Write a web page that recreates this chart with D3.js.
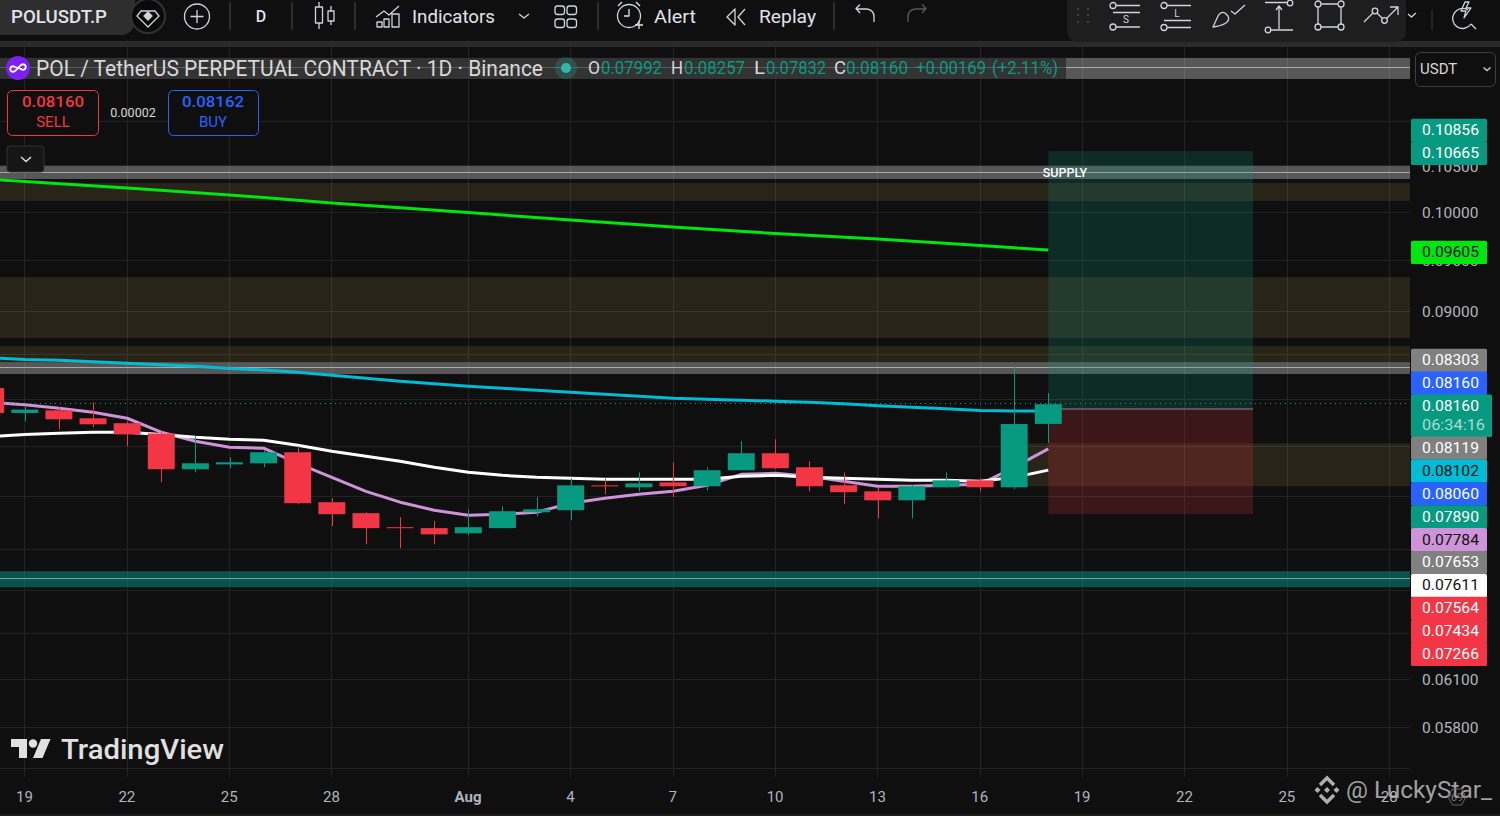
<!DOCTYPE html>
<html lang="en">
<head>
<meta charset="utf-8">
<title>POLUSDT.P 1D</title>
<script src="https://d3js.org/d3.v7.min.js"></script>
<style>
  html, body { margin: 0; padding: 0; background: #0f0f0f; overflow: hidden; }
  svg { display: block; }
  text { font-family: Roboto, "Noto Sans", sans-serif; }
</style>
</head>
<body>
<svg id="chart" width="1500" height="816"></svg>
<script>
// candles, first one is 18 Jul (day -1), last is 18 Aug (day 30)
var opens  = [.08301,.08085,.08108,.08040,.07998,.07912,.07618,.07657,.07666,.07756,.07357,.07272,.07165,.07158,
              .07119,.07158,.07279,.07295,.07489,.07474,.07513,.07482,.07610,.07748,.07634,.07490,.07442,.07372,.07474,.07529,.07474,.07992];
var highs  = [.08340,.08137,.08137,.08177,.08014,.07929,.07887,.07715,.07772,.07806,.07388,.07279,.07241,.07211,
              .07302,.07325,.07396,.07545,.07545,.07593,.07674,.07634,.07847,.07863,.07683,.07593,.07474,.07490,.07593,.07545,.08495,.08257];
var lows   = [.08060,.08014,.07945,.07964,.07806,.07514,.07593,.07626,.07634,.07341,.07173,.07037,.07007,.07037,
              .07104,.07158,.07249,.07218,.07419,.07442,.07396,.07450,.07610,.07618,.07442,.07341,.07233,.07233,.07474,.07442,.07458,.07832];
var closes = [.08085,.08114,.08031,.07989,.07904,.07618,.07666,.07674,.07756,.07349,.07264,.07158,.07158,.07111,
              .07165,.07287,.07302,.07489,.07482,.07505,.07482,.07610,.07748,.07626,.07482,.07435,.07372,.07482,.07529,.07474,.07991,.08160];

// moving averages, one value per candle
var purpleMa = [.08177,.08156,.08126,.08091,.08040,.07922,.07847,.07797,.07789,.07666,.07553,.07442,.07357,.07295,
                .07256,.07264,.07279,.07349,.07388,.07419,.07442,.07490,.07577,.07585,.07561,.07521,.07482,.07482,.07490,.07497,.07634,.07784];
var whiteMa  = [.07884,.07904,.07913,.07922,.07922,.07904,.07880,.07863,.07855,.07814,.07764,.07723,.07682,.07634,
                .07593,.07569,.07553,.07545,.07537,.07537,.07537,.07537,.07561,.07569,.07553,.07545,.07537,.07529,.07529,.07521,.07553,.07611];
var cyanMa   = [.08572,.08555,.08549,.08535,.08522,.08508,.08495,.08474,.08461,.08441,.08414,.08388,.08361,.08339,
                .08317,.08299,.08282,.08264,.08247,.08229,.08212,.08203,.08195,.08186,.08177,.08164,.08147,.08134,.08121,.08106,.08102,.08102];
// long green one, read at the date ticks only
var greenDays = [-1,0,3,6,9,13,16,19,22,25,28,30];
var greenMa   = [.10350,.10328,.10257,.10182,.10096,.09995,.09916,.09843,.09775,.09718,.09652,.09605];

// horizontal zones [top, bottom]
var grayZones  = [[.11770,.11511],[.10499,.10355],[.08532,.08425]];
var grayLines  = [.11646,.10427,.08483];
var oliveZones = [[.10312,.10117],[.09335,.08752],[.08678,.08532]];
var lateZone   = [.07830,.07482];
var tealZone   = [.06839,.06725];
var tealLine   = .06789;

// long position tool
var toolEntry = .08119, toolTarget = .10665, toolStop = .07266;
var toolStartDay = 30, toolEndDay = 36;
var lastPrice = .08160;

// axes
var priceTicks = [.11,.105,.10,.095,.09,.086,.082,.078,.074,.07,.067,.064,.061,.058,.0555];
var priceTickLabels = [.105,.10,.095,.09,.061,.058];
var dayTicks = [0,3,6,9,13,16,19,22,25,28,31,34,37,40];
var dayTickLabels = ["19","22","25","28","Aug","4","7","10","13","16","19","22","25","28"];

// price tags on the right
var tagLabels = ["0.10856","0.10665","0.09605","0.08303","0.08160","0.08160","0.08119","0.08102","0.08060","0.07890","0.07784","0.07653","0.07611","0.07564","0.07434","0.07266"];
var tagFills  = ["#089981","#089981","#00e60f","#808080","#2962ff","#089981","#808080","#00bcd4","#2962ff","#089981","#ce93d8","#808080","#ffffff","#f23645","#f23645","#f23645"];
var tagInks   = ["#fff","#fff","#111","#fff","#fff","#fff","#fff","#111","#fff","#fff","#111","#fff","#111","#fff","#fff","#fff"];

var GREEN = "#089981", RED = "#f23645", ICON = "#d1d4dc";
var paneRight = 1410, paneTop = 47, paneBottom = 777;

var svg = d3.select("#chart");
svg.append("rect").attr("width", 1500).attr("height", 816).attr("fill", "#0f0f0f");

var x = d3.scaleLinear().domain([0, 30]).range([24.8, 1048.3]);
var y = d3.scaleLog().domain([.10, .058]).range([212, 727]);

var defs = svg.append("defs");
defs.append("clipPath").attr("id", "pane").append("rect")
  .attr("x", 0).attr("y", paneTop).attr("width", paneRight).attr("height", paneBottom - paneTop);

var pane = svg.append("g").attr("clip-path", "url(#pane)");

// grid
pane.selectAll("line.vgrid").data(dayTicks).enter().append("line")
  .attr("x1", x).attr("x2", x).attr("y1", paneTop).attr("y2", paneBottom)
  .attr("stroke", "#232323").attr("shape-rendering", "crispEdges");
pane.selectAll("line.hgrid").data(priceTicks).enter().append("line")
  .attr("x1", 0).attr("x2", paneRight).attr("y1", y).attr("y2", y)
  .attr("stroke", "#232323").attr("shape-rendering", "crispEdges");

function band(g, d, fill, x0) {
  g.append("rect")
    .attr("x", x0 || 0).attr("width", paneRight - (x0 || 0))
    .attr("y", y(d[0])).attr("height", y(d[1]) - y(d[0]))
    .attr("fill", fill);
}
function hline(g, p, color) {
  g.append("line").attr("x1", 0).attr("x2", paneRight).attr("y1", y(p)).attr("y2", y(p))
    .attr("stroke", color).attr("stroke-width", 1).attr("shape-rendering", "crispEdges");
}

// zones
var OLIVE = "rgba(235,205,85,0.115)";
oliveZones.forEach(function(d) { band(pane, d, OLIVE); });
band(pane, lateZone, OLIVE, x(29));
grayZones.forEach(function(d) { band(pane, d, "rgba(255,255,255,0.3)"); });
grayLines.forEach(function(p) { hline(pane, p, "#a8a8a8"); });
band(pane, tealZone, "rgba(8,150,140,0.5)");
hline(pane, tealLine, "#6fa8a2");

// moving averages
var maLine = d3.line().x(function(d) { return x(d[0]); }).y(function(d) { return y(d[1]); });
function drawMa(days, values, color) {
  pane.append("path")
    .datum(values.map(function(v, i) { return [days[i], v]; }))
    .attr("d", maLine).attr("fill", "none")
    .attr("stroke", color).attr("stroke-width", 3).attr("stroke-linejoin", "round");
}
var candleDays = d3.range(-1, 31);
drawMa(candleDays, cyanMa, "#00bcd4");
drawMa(candleDays, purpleMa, "#ce93d8");
drawMa(candleDays, whiteMa, "#ffffff");
drawMa(greenDays, greenMa, "#00e60f");

// long position tool
var toolX = x(toolStartDay), toolW = x(toolEndDay) - x(toolStartDay);
pane.append("rect").attr("x", toolX).attr("width", toolW)
  .attr("y", y(toolTarget)).attr("height", y(toolEntry) - y(toolTarget))
  .attr("fill", "rgba(8,153,129,0.2)");
pane.append("rect").attr("x", toolX).attr("width", toolW)
  .attr("y", y(toolEntry)).attr("height", y(toolStop) - y(toolEntry))
  .attr("fill", "rgba(242,54,69,0.2)");
pane.append("line").attr("x1", toolX).attr("x2", toolX + toolW)
  .attr("y1", y(toolEntry)).attr("y2", y(toolEntry))
  .attr("stroke", "#8a8a8a").attr("stroke-width", 1);

// last price dotted line
pane.append("line").attr("x1", 0).attr("x2", paneRight)
  .attr("y1", Math.round(y(lastPrice)) - 0.5).attr("y2", Math.round(y(lastPrice)) - 0.5)
  .attr("stroke", "#0aa58c").attr("stroke-dasharray", "1 4").attr("shape-rendering", "crispEdges");

// candles
var bodyW = (x(1) - x(0)) * 0.79;
var candles = pane.selectAll("g.candle").data(opens).enter().append("g").attr("class", "candle");
candles.append("line")
  .attr("x1", function(d, i) { return Math.round(x(candleDays[i])) + 0.5; })
  .attr("x2", function(d, i) { return Math.round(x(candleDays[i])) + 0.5; })
  .attr("y1", function(d, i) { return y(highs[i]); })
  .attr("y2", function(d, i) { return y(lows[i]); })
  .attr("stroke", function(d, i) { return closes[i] >= opens[i] ? GREEN : RED; });
candles.append("rect")
  .attr("x", function(d, i) { return x(candleDays[i]) - bodyW / 2; })
  .attr("width", bodyW)
  .attr("y", function(d, i) { return y(Math.max(opens[i], closes[i])); })
  .attr("height", function(d, i) { return Math.max(1, Math.abs(y(opens[i]) - y(closes[i]))); })
  .attr("fill", function(d, i) { return closes[i] >= opens[i] ? GREEN : RED; });

// text helper, w forces the rendered width
function label(g, px, py, str, size, fill, opt) {
  opt = opt || {};
  var t = g.append("text").attr("x", px).attr("y", py).text(str)
    .attr("font-size", size).attr("fill", fill)
    .attr("text-anchor", opt.anchor || "start")
    .attr("font-weight", opt.weight || 400);
  if (opt.w) t.attr("textLength", opt.w).attr("lengthAdjust", "spacingAndGlyphs");
  return t;
}

pane.append("text").attr("x", 1065).attr("y", 177).attr("text-anchor", "middle")
  .attr("font-size", 12.5).attr("font-weight", 500).attr("fill", "#fff").text("SUPPLY");

// axes
var yAxis = d3.axisRight(y).tickValues(priceTickLabels).tickSize(0).tickPadding(0)
  .tickFormat(d3.format(".5f"));
var yG = svg.append("g").attr("transform", "translate(1422,0.2)").call(yAxis);
yG.select(".domain").remove();
yG.selectAll("text").attr("font-size", 15.5).attr("fill", "#b2b5be")
  .style("font-family", "Roboto, sans-serif");

var xAxis = d3.axisBottom(x).tickValues(dayTicks).tickSize(0).tickPadding(0)
  .tickFormat(function(d, i) { return dayTickLabels[i]; });
var xG = svg.append("g").attr("transform", "translate(-0.8,791.5)").call(xAxis);
xG.select(".domain").remove();
xG.selectAll("text").attr("font-size", 15).attr("fill", "#b2b5be")
  .style("font-family", "Roboto, sans-serif")
  .attr("font-weight", function(d) { return d === 13 ? 700 : 400; });

svg.append("line").attr("x1", 0).attr("x2", 1500).attr("y1", 815).attr("y2", 815).attr("stroke", "#2a2a2a");

// price tags, the lower ones stack like tradingview does
var tagH = 22.9;
var tagTops = [118.8, 141.8, 240.8];
var stackTop = 348.7;
for (var k = 3; k < tagLabels.length; k++) {
  tagTops.push(stackTop);
  stackTop += (k === 5) ? 42 : tagH;
}
var tags = svg.append("g");
tagLabels.forEach(function(txt, i) {
  var big = i === 5;
  tags.append("rect")
    .attr("x", 1411).attr("y", tagTops[i]).attr("rx", 1.5)
    .attr("width", big ? 81 : 76).attr("height", big ? 42.5 : tagH + 0.4)
    .attr("fill", tagFills[i]);
  label(tags, 1422, tagTops[i] + (big ? 16 : 16.4), txt, 15.5, tagInks[i], { w: 57 });
  if (big) label(tags, 1422, tagTops[i] + 35.5, "06:34:16", 15.5, "#a5dcd2", { w: 63 });
});

// legend row
svg.append("rect").attr("x", 0).attr("y", y(.1177)).attr("width", 1066).attr("height", y(.11511) - y(.1177))
  .attr("fill", "rgba(15,15,15,0.5)");
var legend = svg.append("g");
legend.append("circle").attr("cx", 18).attr("cy", 68).attr("r", 12).attr("fill", "#7b1ff2");
legend.append("path").attr("d", "M18 68 l3-3 q2-1.5 4 0 q1.5 2 0 4 q-2 1.5-4 0 l-6-2 q-2-1.5-4 0 q-1.5 2 0 4 q2 1.5 4 0 z")
  .attr("fill", "none").attr("stroke", "#fff").attr("stroke-width", 1.8);
label(legend, 36, 76, "POL / TetherUS PERPETUAL CONTRACT · 1D · Binance", 22, "#d8d8d8", { w: 507 });
legend.append("circle").attr("cx", 566).attr("cy", 68).attr("r", 11).attr("fill", "rgba(38,166,154,0.25)");
legend.append("circle").attr("cx", 566).attr("cy", 68).attr("r", 5).attr("fill", "#36b5a8");
var ohlc = [["O", 588, 12, "0.07992", 601, 61], ["H", 671, 12, "0.08257", 684, 61], ["L", 754, 11, "0.07832", 766, 60], ["C", 834, 12, "0.08160", 846, 62]];
ohlc.forEach(function(d) {
  label(legend, d[1], 74, d[0], 18, "#d8d8d8", { w: d[2] });
  label(legend, d[4], 74, d[3], 18, GREEN, { w: d[5] });
});
label(legend, 916, 74, "+0.00169", 18, GREEN, { w: 70 });
label(legend, 992, 74, "(+2.11%)", 18, GREEN, { w: 66 });

// sell / buy
var trade = svg.append("g");
trade.append("rect").attr("x", 7.5).attr("y", 90.5).attr("width", 91).attr("height", 45).attr("rx", 5)
  .attr("fill", "#0f0f0f").attr("stroke", RED);
label(trade, 53, 107, "0.08160", 15, RED, { anchor: "middle", weight: 500, w: 62 });
label(trade, 53, 127, "SELL", 15, RED, { anchor: "middle" });
label(trade, 133, 117, "0.00002", 12.5, "#d8d8d8", { anchor: "middle" });
trade.append("rect").attr("x", 168.5).attr("y", 90.5).attr("width", 90).attr("height", 45).attr("rx", 5)
  .attr("fill", "#0f0f0f").attr("stroke", "#2962ff");
label(trade, 213, 107, "0.08162", 15, "#2962ff", { anchor: "middle", weight: 500, w: 62 });
label(trade, 213, 127, "BUY", 15, "#2962ff", { anchor: "middle" });
trade.append("rect").attr("x", 7).attr("y", 146).attr("width", 37).attr("height", 26).attr("rx", 3)
  .attr("fill", "#161616").attr("stroke", "#333");
trade.append("path").attr("d", "M21 157 l5 4.5 l5-4.5").attr("fill", "none").attr("stroke", "#ddd").attr("stroke-width", 1.5);

// USDT button
var unit = svg.append("g");
unit.append("rect").attr("x", 1415.5).attr("y", 52.5).attr("width", 80).attr("height", 34).attr("rx", 5)
  .attr("fill", "#0f0f0f").attr("stroke", "#3f3f3f");
label(unit, 1420, 74, "USDT", 15, "#d8d8d8");
unit.append("path").attr("d", "M1483.5 67.5 l3.5 3 l3.5-3").attr("fill", "none").attr("stroke", "#ccc").attr("stroke-width", 1.4);

// top toolbar
var bar = svg.append("g");
bar.append("rect").attr("x", 0).attr("y", 0).attr("width", 1500).attr("height", 41).attr("fill", "#0f0f0f");
bar.append("rect").attr("x", 0).attr("y", 41).attr("width", 1500).attr("height", 6).attr("fill", "#2a2a2a");
bar.append("rect").attr("x", -20).attr("y", -20).attr("width", 155).attr("height", 55).attr("rx", 14).attr("fill", "#2e2e2e");
label(bar, 11, 23, "POLUSDT.P", 18, "#e0e3eb", { w: 96, weight: 500 });
bar.append("circle").attr("cx", 148).attr("cy", 16).attr("r", 17).attr("fill", "#0a0a0a").attr("stroke", "#333").attr("stroke-width", 2);
function icon(d, opt) {
  opt = opt || {};
  bar.append("path").attr("d", d).attr("fill", opt.fill || "none")
    .attr("stroke", opt.stroke || ICON).attr("stroke-width", opt.sw || 1.3)
    .attr("stroke-linejoin", "round");
}
function ring(cx, cy, r, fill) {
  bar.append("circle").attr("cx", cx).attr("cy", cy).attr("r", r)
    .attr("fill", fill || "none").attr("stroke", ICON).attr("stroke-width", 1.3);
}
icon("M141 11 h14 l4 5 l-11 11 l-11-11 z");
icon("M148 12 l4 4 l-4 4 l-4-4 z", { fill: ICON });
ring(197, 16.5, 12.5);
icon("M197 10 v13 M190.5 16.5 h13");
[230, 292, 355, 598, 834].forEach(function(px) {
  bar.append("line").attr("x1", px).attr("x2", px).attr("y1", 2).attr("y2", 30).attr("stroke", "#3a3a3a").attr("stroke-width", 1.5);
});
label(bar, 261, 22, "D", 16, "#e0e3eb", { anchor: "middle", weight: 500 });
icon("M319 2 v5 M319 23 v6 M315.5 7 h7 v16 h-7 z M331 6 v5 M331 21 v4 M328 11 h6 v10 h-6 z");
icon("M376 17 l8-6 l5 4 l10-9 M377 27 v-5 h5 v5 z M384 27 v-8 h5 v8 z M392 27 v-13 h7 v13 z");
label(bar, 412, 23, "Indicators", 18, "#e0e3eb", { w: 83 });
icon("M519 14 l5 4 l5-4");
bar.selectAll("rect.squares").data([[555, 6], [567, 6], [555, 19], [567, 19]]).enter().append("rect")
  .attr("x", function(d) { return d[0]; }).attr("y", function(d) { return d[1]; })
  .attr("width", 9.5).attr("height", 8.5).attr("rx", 2.5)
  .attr("fill", "none").attr("stroke", ICON).attr("stroke-width", 1.3);
ring(629, 16, 11.5);
icon("M629 9 v7 h-5 M618 6 l4-4 M640 6 l-4-4 M635 25 h8 M639 21 v8", { stroke: "#e0e3eb" });
label(bar, 654, 23, "Alert", 18, "#e0e3eb", { w: 42 });
icon("M735 9 l-8 8 l8 8 z M745 9 l-7 8 l7 8");
label(bar, 759, 23, "Replay", 18, "#e0e3eb", { w: 57 });
icon("M860 13 l-4-4.5 l4-4 M856 9 h11 q7 1 7 8 v5");
icon("M922 13 l4-4.5 l-4-4 M926 9 h-11 q-7 1-7 8 v5", { stroke: "#5a5a5a" });

// floating drawing bar
bar.append("rect").attr("x", 1067).attr("y", -12).attr("width", 339).attr("height", 54).attr("rx", 10).attr("fill", "#1e1e1e");
[9, 15, 22].forEach(function(py) {
  [1078, 1088].forEach(function(px) {
    bar.append("circle").attr("cx", px).attr("cy", py).attr("r", 0.9).attr("fill", "#555");
  });
});
ring(1113, 5.5, 3); ring(1113, 27, 3);
icon("M1116 5.5 h24 M1113 12.5 h27 M1116 27 h24");
label(bar, 1126, 23, "S", 10, ICON, { anchor: "middle" });
ring(1164, 5.5, 3); ring(1164, 27.5, 3);
icon("M1167 5.5 h24 M1164 20.5 h27 M1167 27.5 h24");
label(bar, 1177, 17, "L", 10, ICON, { anchor: "middle" });
icon("M1213 27 l5-11 q3-5 7-3 l3 3 q2 4-2 7 q-5 3-13 4 z M1231 11 l4 3 l10-9");
ring(1290, 3, 2.8); ring(1268, 30, 2.8);
icon("M1265 2.5 h22 M1271 30 h22 M1279 29 v-22 M1276 10 l3-4 l3 4");
icon("M1318 4 h23 v23 h-23 z");
[[1318, 4], [1341, 4], [1318, 27], [1341, 27]].forEach(function(d) { ring(d[0], d[1], 3, "#1e1e1e"); });
icon("M1364 22 l11-11 l9.5 9.5 l13.5-13.5 M1390 7 h8 v8");
ring(1375, 11, 2.8, "#1e1e1e"); ring(1384.5, 20.5, 2.8, "#1e1e1e");
icon("M1408 14 l3.5 3 l4.5-4");
bar.append("line").attr("x1", 1432).attr("x2", 1432).attr("y1", 10).attr("y2", 30).attr("stroke", "#3a3a3a");
icon("M1468 10 a10 10 0 1 0 3 14 M1471 24 l5 5 M1465 2 l-4 9 h5 l-2 7 l7-10 h-5 l3-6 z");

// logo
var logo = svg.append("g");
logo.append("path").attr("d", "M11 739 h16 v19 h-8 v-11 h-8 z").attr("fill", "#e0e0e0");
logo.append("circle").attr("cx", 33).attr("cy", 743.5).attr("r", 4.2).attr("fill", "#e0e0e0");
logo.append("path").attr("d", "M41 739 h9.5 l-8 19 h-9.5 z").attr("fill", "#e0e0e0");
label(logo, 61, 759, "TradingView", 27, "#e0e0e0", { w: 163, weight: 500 });

// watermark
var mark = svg.append("g").attr("opacity", 0.85);
mark.append("path").attr("d", "M1320 785 l7-7 l7 7 M1320 795 l7 7 l7-7").attr("fill", "none").attr("stroke", "#ccc").attr("stroke-width", 3.4);
[1317.5, 1327, 1336.5].forEach(function(px) {
  mark.append("path").attr("d", "M" + px + " 787 l3 3 l-3 3 l-3-3 z").attr("fill", "#ccc");
});
label(mark, 1346, 798, "@ LuckyStar_", 24, "#bbb", { w: 146 });
mark.append("path").attr("d", "M1448 797 l4.5-8 h9 l4.5 8 l-4.5 8 h-9 z").attr("fill", "none").attr("stroke", "#777");
label(mark, 1457, 801, "69", 11, "#888", { anchor: "middle" });
</script>
</body>
</html>
